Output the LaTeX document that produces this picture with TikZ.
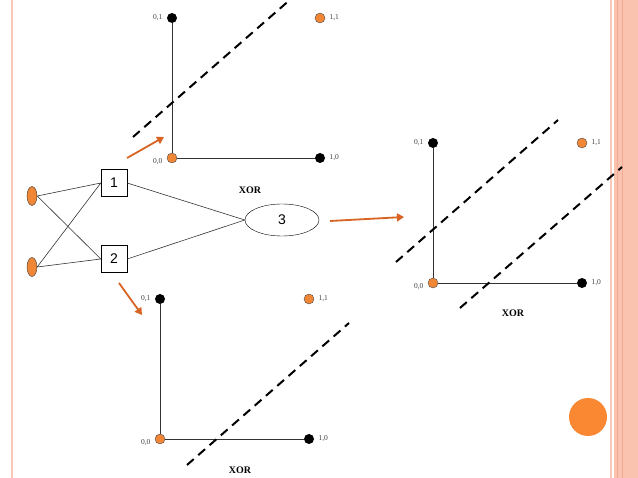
\documentclass[tikz,border=0pt]{standalone}
\usepackage{fontspec}
\setmainfont{Liberation Serif}
\newfontfamily\arialf{Liberation Sans}
\usetikzlibrary{arrows.meta,shapes.geometric}
\definecolor{pinkA}{RGB}{250,200,185}
\definecolor{pinkB}{RGB}{250,195,175}
\definecolor{pinkC}{RGB}{240,170,145}
\definecolor{orD}{RGB}{240,135,55}
\definecolor{orA}{RGB}{215,100,35}
\definecolor{orC}{RGB}{250,135,50}
\begin{document}
\begin{tikzpicture}[x=1pt,y=-1pt,
 od/.style={circle,fill=orD,draw=black!70,line width=0.4pt,minimum size=10pt,inner sep=0},
 bd/.style={circle,fill=black,minimum size=10pt,inner sep=0},
 lb/.style={font=\fontsize{7.5}{8}\selectfont,text=black!75},
 ax/.style={draw=black!80,line width=0.6pt},
 dsh/.style={line width=2pt,dash pattern=on 9pt off 6pt},
 oar/.style={draw=orA,line width=1.8pt,-{Triangle[length=7pt,width=8pt]}},
 xl/.style={font=\bfseries\fontsize{10}{12}\selectfont},
 box/.style={draw,minimum width=26pt,minimum height=27pt,inner sep=0,font=\arialf\fontsize{14}{16}\selectfont}]
\useasboundingbox (0,0) rectangle (638,478);
\fill[pinkA] (11,0) rectangle (13,478);
\fill[pinkA] (610,0) rectangle (612,478);
\fill[pinkB] (614,0) rectangle (638,478);
\draw[pinkC] (617,0) -- (617,478) (622,0)--(622,478);
% top plot
\node[bd] (a1) at (172,18) {}; \node[od] (a2) at (320,18) {};
\node[od] (a0) at (172,158) {}; \node[bd] (a3) at (320,158) {};
\draw[ax] (a1) -- (a0) -- (a3);
\node[lb,left] at (166,18) {0,1}; \node[lb,right] at (326,18) {1,1};
\node[lb,left] at (166,162) {0,0}; \node[lb,right] at (326,158) {1,0};
\coordinate (d1a) at (133,137); \coordinate (d1b) at (292,-2);
\draw[dsh] (d1a) -- (d1b);
% right plot
\node[bd] (b1) at (433,143) {}; \node[od] (b2) at (582,143) {};
\node[od] (b0) at (433,283) {}; \node[bd] (b3) at (582,283) {};
\draw[ax] (b1) -- (b0) -- (b3);
\node[lb,left] at (427,143) {0,1}; \node[lb,right] at (588,143) {1,1};
\node[lb,left] at (427,287) {0,0}; \node[lb,right] at (588,283) {1,0};
\node[xl] at (513,313) {XOR};
\coordinate (d2a) at (396,262); \coordinate (d2b) at (558,120);
\coordinate (d3a) at (460,308); \coordinate (d3b) at (622,167);
\draw[dsh] (d2a) -- (d2b); \draw[dsh] (d3a) -- (d3b);
% bottom plot
\node[bd] (c1) at (160,299) {}; \node[od] (c2) at (309,299) {};
\node[od] (c0) at (160,439) {}; \node[bd] (c3) at (309,439) {};
\draw[ax] (c1) -- (c0) -- (c3);
\node[lb,left] at (154,299) {0,1}; \node[lb,right] at (315,299) {1,1};
\node[lb,left] at (154,443) {0,0}; \node[lb,right] at (315,439) {1,0};
\node[xl] at (240,470) {XOR};
\coordinate (d4a) at (187,465); \coordinate (d4b) at (349,323);
\draw[dsh] (d4a) -- (d4b);
% network
\node[ellipse,draw=black!80,fill=orD,minimum width=10pt,minimum height=19pt,inner sep=0] (i1) at (32,196) {};
\node[ellipse,draw=black!80,fill=orD,minimum width=10pt,minimum height=19pt,inner sep=0] (i2) at (32,267) {};
\node[box] (n1) at (114,183) {1};
\node[box] (n2) at (114,259) {2};
\node[ellipse,draw,minimum width=74pt,minimum height=32pt,inner sep=0,font=\arialf\fontsize{14}{16}\selectfont] (n3) at (282,220) {3};
\draw[ax] (i1.east) -- (n1.west) (i1.east) -- (n2.west) (i2.east) -- (n1.west) (i2.east) -- (n2.west)
 (n1.east) -- (n3.west) (n2.east) -- (n3.west);
\node[xl] at (250,190) {XOR};
% arrows
\coordinate (r1a) at (127,158); \coordinate (r1b) at (164,137);
\coordinate (r2a) at (330,221); \coordinate (r2b) at (404,217);
\coordinate (r3a) at (119,283); \coordinate (r3b) at (142,315);
\draw[oar] (r1a) -- (r1b); \draw[oar] (r2a) -- (r2b); \draw[oar] (r3a) -- (r3b);
\fill[orC] (588,417) circle (19);
\end{tikzpicture}
\end{document}
